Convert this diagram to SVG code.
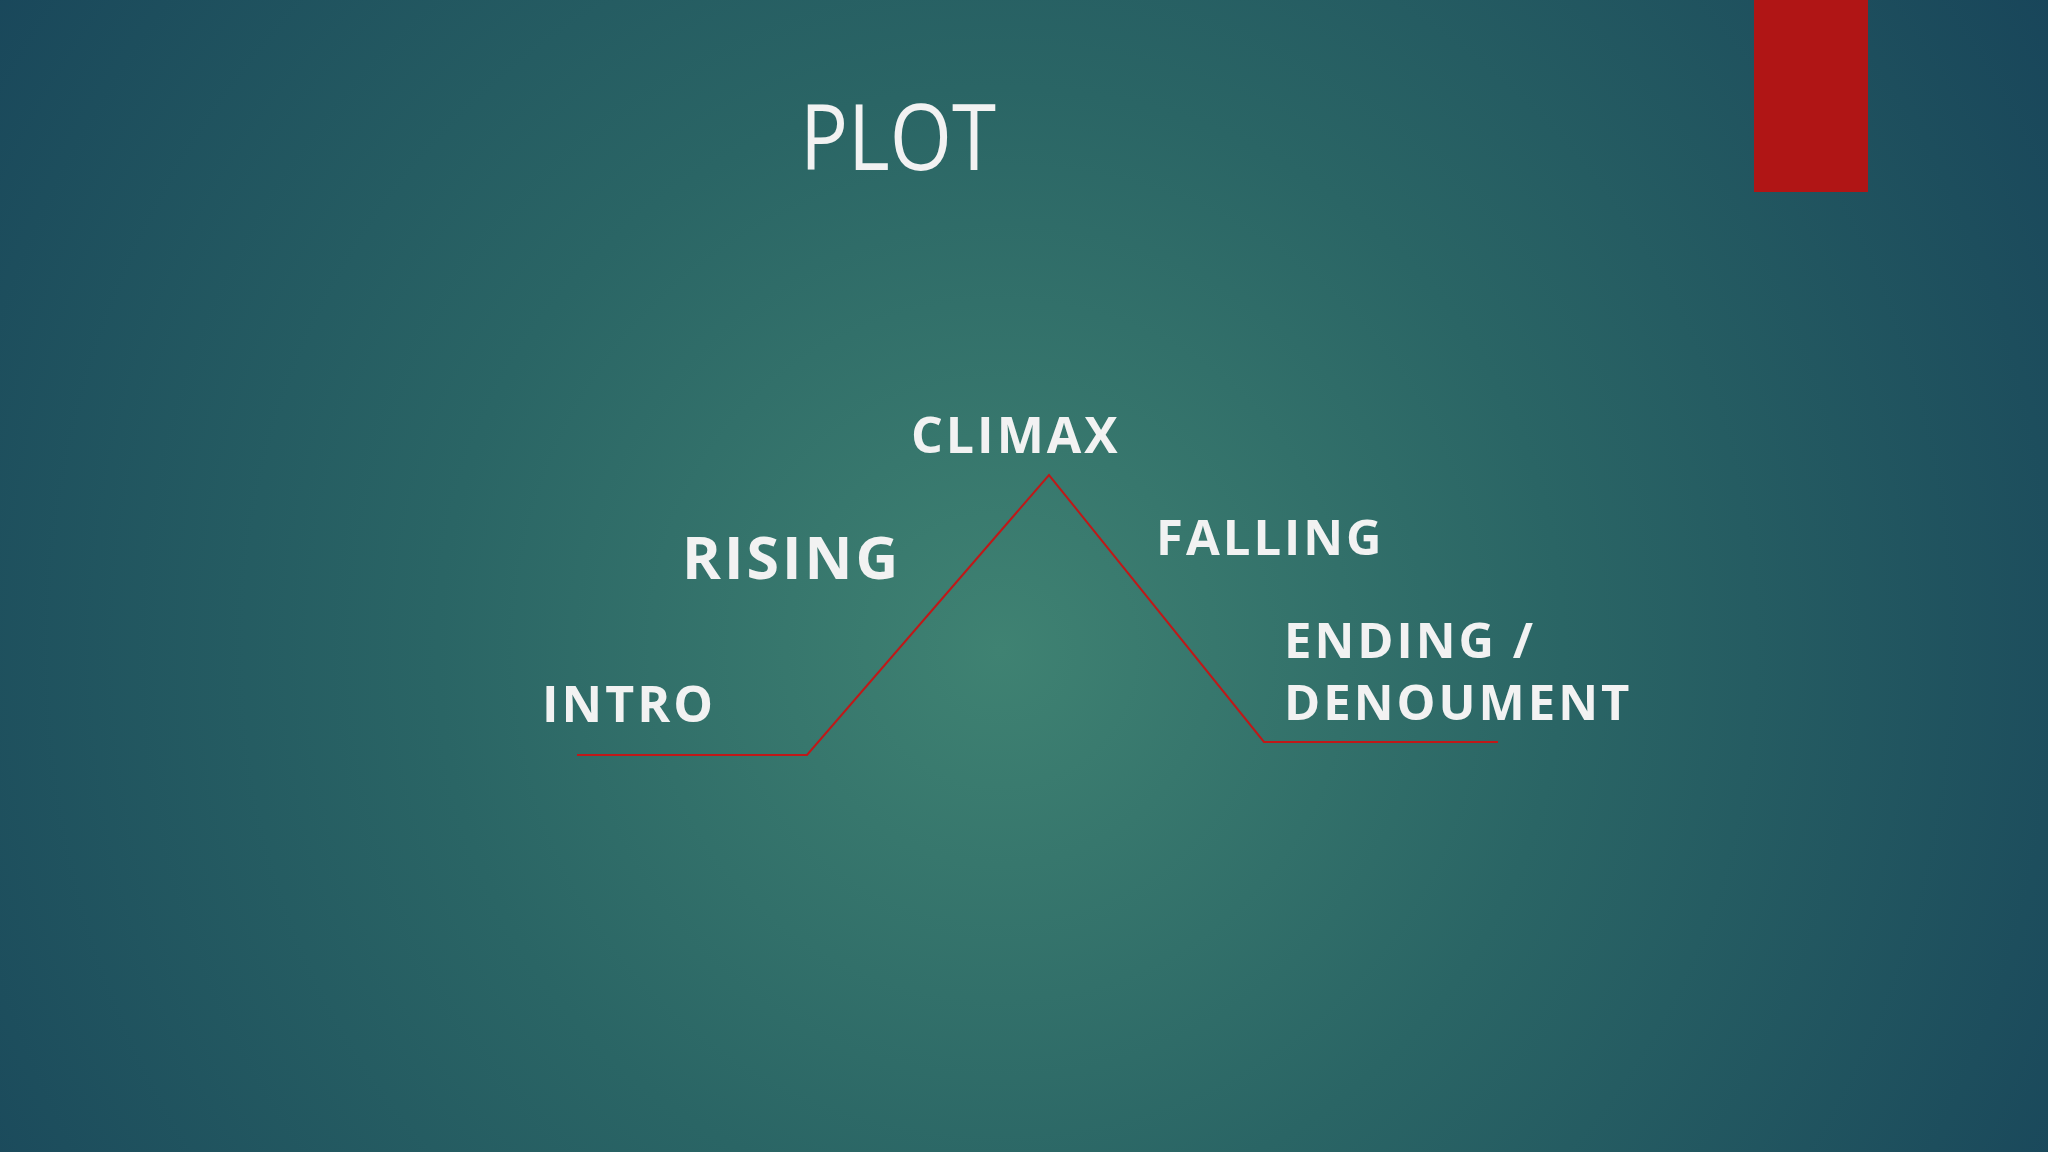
<svg xmlns="http://www.w3.org/2000/svg" width="2048" height="1152" viewBox="0 0 2048 1152">
<defs>
<radialGradient id="bg" cx="1000" cy="650" r="1250" gradientUnits="userSpaceOnUse">
<stop offset="0" stop-color="#3f8272"/>
<stop offset="0.45" stop-color="#2a6565"/>
<stop offset="1" stop-color="#18455a"/>
</radialGradient>
<style>
.lbl{font-family:"Open Sans","Liberation Sans",sans-serif;font-weight:bold;fill:#f2f2f2;letter-spacing:3px}
</style>
</defs>
<rect width="2048" height="1152" fill="url(#bg)"/>
<rect x="1754" y="0" width="114" height="192" fill="#b01515"/>
<text x="800" y="170" font-family="'Segoe UI','Open Sans','Liberation Sans',sans-serif" font-size="92" fill="#f2f2f2" textLength="196" lengthAdjust="spacingAndGlyphs">PLOT</text>
<g id="connectors">
<polyline points="577,755 807,755 1049,475 1264,742 1498,742" fill="none" stroke="#c01818" stroke-width="2"/>
</g>
<g id="climax"><text class="lbl" x="911" y="453" font-size="50">CLIMAX</text></g>
<g id="rising"><text class="lbl" x="682" y="579" font-size="59">RISING</text></g>
<g id="falling"><text class="lbl" x="1156" y="555" font-size="49">FALLING</text></g>
<g id="ending"><text class="lbl" x="1284" y="658" font-size="49">ENDING /</text><text class="lbl" x="1284" y="720" font-size="49">DENOUMENT</text></g>
<g id="intro"><text class="lbl" x="542" y="722" font-size="50">INTRO</text></g>
</svg>
